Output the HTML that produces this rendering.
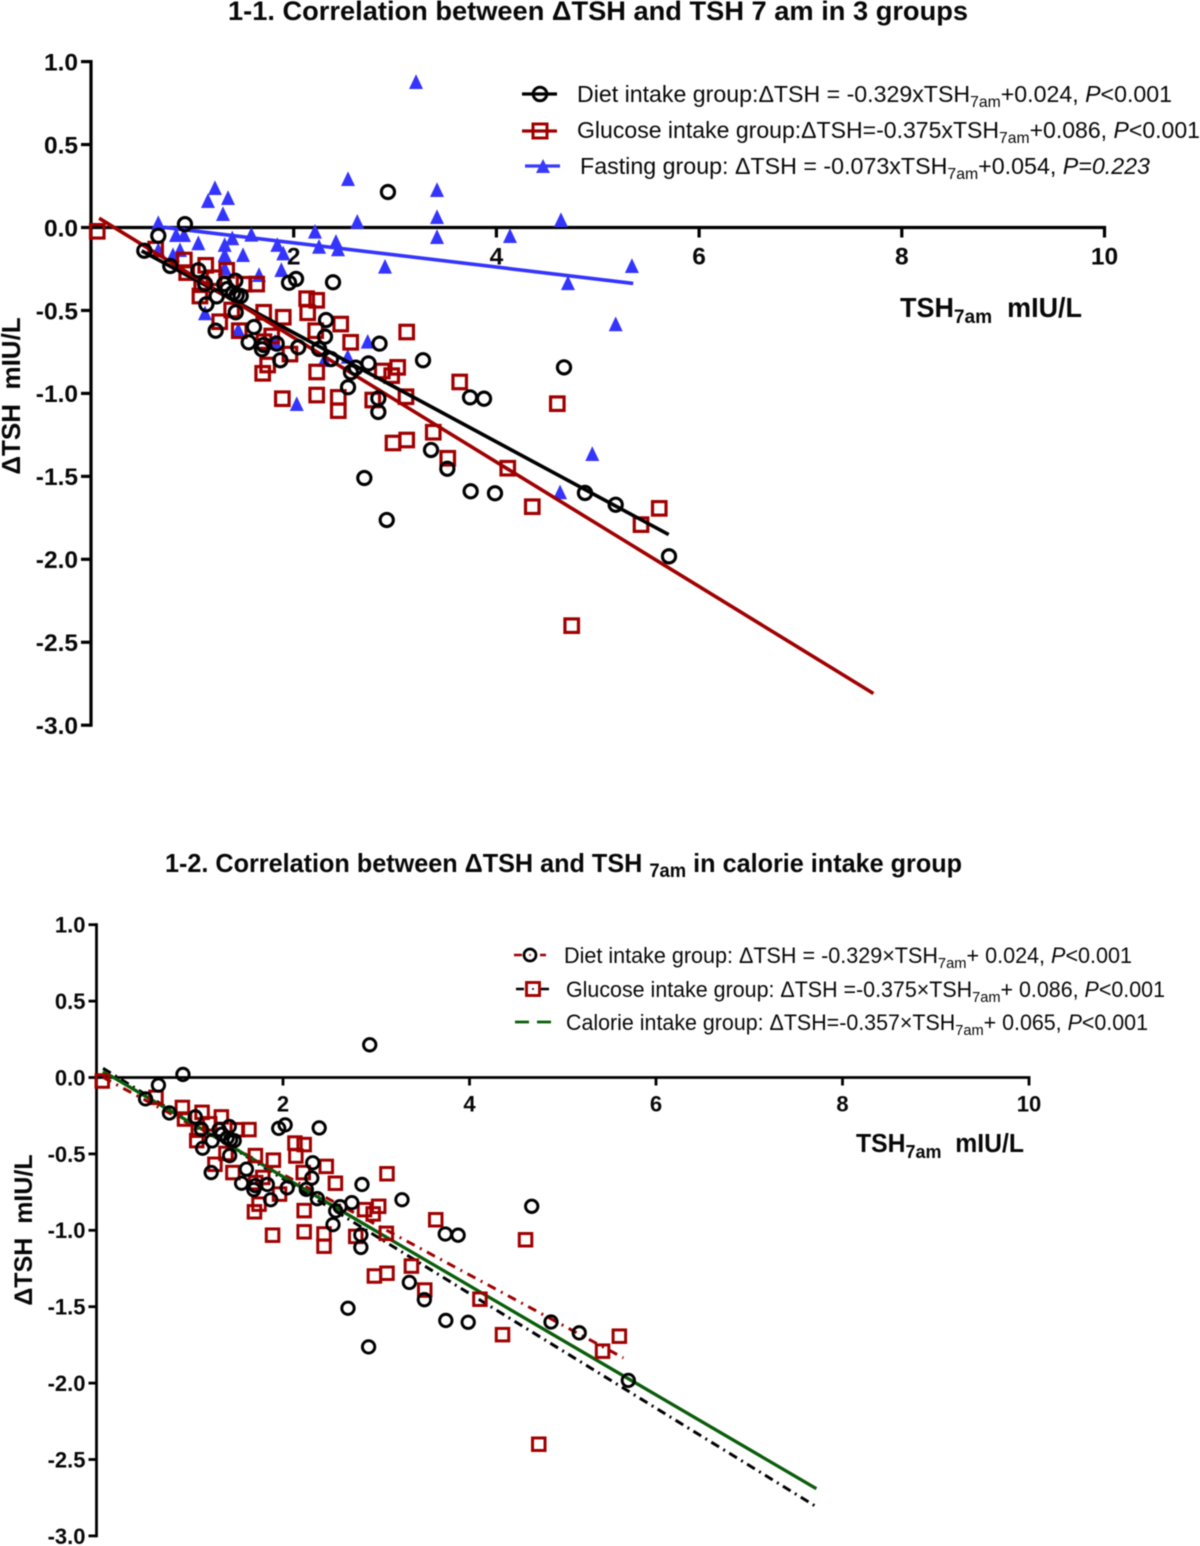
<!DOCTYPE html>
<html lang="en">
<head>
<meta charset="utf-8">
<title>TSH correlation charts</title>
<style>
html,body{margin:0;padding:0;background:#fff;}
#figure{display:block;width:1200px;height:1546px;filter:blur(0.4px);font-family:"Liberation Sans",Arial,sans-serif;}
text{fill:#080808;}
.b{font-weight:bold;}
</style>
</head>
<body>
<svg id="figure" xmlns="http://www.w3.org/2000/svg" width="1200" height="1546" viewBox="0 0 1200 1546">
  <rect x="0" y="0" width="1200" height="1546" fill="#ffffff"/>

  <text class="b" x="228" y="20" font-size="26.5" textLength="740" lengthAdjust="spacingAndGlyphs">1-1. Correlation between ΔTSH and TSH 7 am in 3 groups</text>
  <text class="b" x="165" y="872" font-size="26" textLength="797" lengthAdjust="spacingAndGlyphs">1-2. Correlation between ΔTSH and TSH <tspan dy="5" font-size="19">7am</tspan><tspan dy="-5"> in calorie intake group</tspan></text>

  <g id="chart1"></g>
  <g id="chart2"></g>

  <text class="b" x="900" y="317" font-size="27.5" textLength="182" lengthAdjust="spacingAndGlyphs">TSH<tspan dy="6" font-size="19.5">7am</tspan><tspan dy="-6" xml:space="preserve">  mIU/L</tspan></text>
  <text class="b" x="856" y="1152" font-size="25.5" textLength="168" lengthAdjust="spacingAndGlyphs">TSH<tspan dy="6" font-size="18.5">7am</tspan><tspan dy="-6" xml:space="preserve">  mIU/L</tspan></text>
  <text class="b" transform="translate(20,396) rotate(-90)" text-anchor="middle" font-size="26" xml:space="preserve">ΔTSH  mIU/L</text>
  <text class="b" transform="translate(32,1230) rotate(-90)" text-anchor="middle" font-size="25" xml:space="preserve">ΔTSH  mIU/L</text>

  <g>
    <g>
      <line x1="522" y1="94" x2="557" y2="94" stroke="#000" stroke-width="3.2"/>
      <circle cx="540" cy="94" r="6.8" fill="none" stroke="#000" stroke-width="3"/>
      <text x="577" y="102" font-size="23.5" textLength="595" lengthAdjust="spacingAndGlyphs">Diet intake group:ΔTSH = -0.329xTSH<tspan dy="5" font-size="16">7am</tspan><tspan dy="-5">+0.024, </tspan><tspan font-style="italic">P</tspan>&lt;0.001</text>
    </g>
    <g>
      <line x1="522" y1="131" x2="557" y2="131" stroke="#a00000" stroke-width="3.2"/>
      <rect x="533" y="124" width="14" height="14" fill="none" stroke="#a00000" stroke-width="3"/>
      <text x="577" y="138" font-size="23.5" textLength="623" lengthAdjust="spacingAndGlyphs">Glucose intake group:ΔTSH=-0.375xTSH<tspan dy="5" font-size="16">7am</tspan><tspan dy="-5">+0.086, </tspan><tspan font-style="italic">P</tspan>&lt;0.001</text>
    </g>
    <g>
      <line x1="525" y1="166" x2="560" y2="166" stroke="#3a3aff" stroke-width="3.2"/>
      <polygon points="543,159 550,173 536,173" fill="#3a3aff"/>
      <text x="580" y="174" font-size="23.5" textLength="570" lengthAdjust="spacingAndGlyphs">Fasting group: ΔTSH = -0.073xTSH<tspan dy="5" font-size="16">7am</tspan><tspan dy="-5">+0.054, </tspan><tspan font-style="italic">P=0.223</tspan></text>
    </g>
  </g>

  <g>
    <g>
      <line x1="514" y1="955" x2="546" y2="955" stroke="#a00000" stroke-width="2.6" stroke-dasharray="8 18 8"/>
      <circle cx="530" cy="955" r="6" fill="none" stroke="#000" stroke-width="2.7"/>
      <circle cx="530" cy="955" r="1" fill="#a00000"/>
      <text x="564" y="963" font-size="22" textLength="568" lengthAdjust="spacingAndGlyphs">Diet intake group: ΔTSH = -0.329×TSH<tspan dy="5" font-size="15">7am</tspan><tspan dy="-5">+ 0.024, </tspan><tspan font-style="italic">P</tspan>&lt;0.001</text>
    </g>
    <g>
      <line x1="516" y1="989" x2="549" y2="989" stroke="#000" stroke-width="2.6" stroke-dasharray="8 17 8"/>
      <rect x="526.5" y="982.5" width="13" height="13" fill="none" stroke="#a00000" stroke-width="2.9"/>
      <circle cx="533" cy="989" r="1" fill="#000"/>
      <text x="566" y="997" font-size="22" textLength="599" lengthAdjust="spacingAndGlyphs">Glucose intake group: ΔTSH =-0.375×TSH<tspan dy="5" font-size="15">7am</tspan><tspan dy="-5">+ 0.086, </tspan><tspan font-style="italic">P</tspan>&lt;0.001</text>
    </g>
    <g>
      <line x1="515" y1="1022" x2="551" y2="1022" stroke="#0a5c0a" stroke-width="2.8" stroke-dasharray="14 8 14"/>
      <text x="566" y="1030" font-size="22" textLength="582" lengthAdjust="spacingAndGlyphs">Calorie intake group: ΔTSH=-0.357×TSH<tspan dy="5" font-size="15">7am</tspan><tspan dy="-5">+ 0.065, </tspan><tspan font-style="italic">P</tspan>&lt;0.001</text>
    </g>
  </g>
</svg>

<script>
// ---- data ----
const dietX = [0.927,0.664,0.526,0.782,1.059,1.125,1.315,1.424,1.345,1.401,1.477,1.438,1.24,1.138,1.428,1.23,1.608,1.556,1.704,1.687,1.832,2.045,1.868,1.954,2.023,2.388,2.319,2.309,2.25,2.368,2.612,2.565,2.738,2.536,2.847,3.276,2.835,2.835,4.667,3.74,3.878,3.355,3.516,2.697,3.746,3.986,2.918,4.874,5.177,5.703,2.93];
const dietY = [0.02,-0.05,-0.14,-0.232,-0.258,-0.339,-0.341,-0.321,-0.371,-0.395,-0.413,-0.407,-0.415,-0.463,-0.511,-0.622,-0.6,-0.692,-0.708,-0.734,-0.7,-0.722,-0.8,-0.333,-0.31,-0.33,-0.558,-0.658,-0.732,-0.793,-0.845,-0.873,-0.819,-0.963,-0.7,-0.8,-1.03,-1.112,-0.843,-1.024,-1.032,-1.341,-1.454,-1.51,-1.59,-1.602,-1.763,-1.6,-1.671,-1.982,0.214];
const glucoseX = [0.062,0.638,0.921,0.944,1.132,1.339,1.214,1.092,1.635,1.51,1.075,1.388,1.27,1.704,1.897,1.463,1.783,1.707,1.963,1.743,1.694,2.128,2.227,2.138,2.217,2.464,2.562,2.227,2.874,2.967,3.026,3.115,1.888,2.227,2.44,2.44,2.78,3.108,3.377,3.115,2.98,3.638,4.601,3.52,4.112,4.354,5.607,5.427,4.743];
const glucoseY = [-0.023,-0.13,-0.196,-0.272,-0.228,-0.258,-0.303,-0.345,-0.341,-0.342,-0.413,-0.497,-0.568,-0.511,-0.541,-0.622,-0.654,-0.688,-0.763,-0.829,-0.879,-0.429,-0.439,-0.514,-0.622,-0.582,-0.692,-0.871,-0.865,-0.893,-0.843,-0.63,-1.032,-1.01,-1.024,-1.104,-1.04,-1.02,-1.234,-1.281,-1.299,-0.931,-1.062,-1.391,-1.451,-1.683,-1.693,-1.791,-2.4];
const fastingX = [0.664,1.223,1.352,1.154,1.302,2.536,3.207,3.414,3.414,3.414,2.627,4.637,4.134,2.901,4.706,5.337,5.177,4.946,4.628,2.03,0.839,0.918,1.059,1.319,1.394,1.582,1.838,1.897,2.21,2.25,2.417,2.437,0.664,0.878,0.809,1.319,1.5,1.319,1.878,1.658,1.125,1.453,2.73,2.533,2.302,1.815];
const fastingY = [0.027,0.238,0.178,0.16,0.081,0.292,0.877,0.226,0.063,-0.057,0.035,0.045,-0.051,-0.236,-0.335,-0.232,-0.583,-1.365,-1.596,-1.064,-0.045,-0.045,-0.095,-0.105,-0.065,-0.043,-0.105,-0.156,-0.025,-0.116,-0.086,-0.131,-0.136,-0.136,-0.166,-0.166,-0.166,-0.246,-0.256,-0.286,-0.517,-0.618,-0.688,-0.779,-0.799,-0.688];

const dietLineX = [0.5,5.7];
const dietLineY = [-0.141,-1.851];
const glucoseLineX = [0.08,7.72];
const glucoseLineY = [0.056,-2.809];
const fastingLineX = [0.72,5.35];
const fastingLineY = [0.001,-0.337];
const dietLine2X = [0.07,5.65];
const dietLine2Y = [0.001,-1.835];
const glucoseLine2X = [0.07,7.72];
const glucoseLine2Y = [0.06,-2.809];
const calorieLineX = [0.07,7.72];
const calorieLineY = [0.04,-2.691];

const xTickValues = [2,4,6,8,10];
const xTickLabels = ['2','4','6','8','10'];
const yTickValues = [1,0.5,0,-0.5,-1,-1.5,-2,-2.5,-3];
const yTickLabels = ['1.0','0.5','0.0','-0.5','-1.0','-1.5','-2.0','-2.5','-3.0'];

const NS = 'http://www.w3.org/2000/svg';
const RED = '#a00000', BLUE = '#3434ff', GREEN = '#0a5c0a', BLACK = '#000000';

function make(tag, attrs, parent) {
  const el = document.createElementNS(NS, tag);
  for (const k in attrs) el.setAttribute(k, attrs[k]);
  parent.appendChild(el);
  return el;
}

function scales(cfg) {
  return {
    x: v => cfg.x0 + v * cfg.xUnit,
    y: v => cfg.y0 - v * cfg.yUnit
  };
}

function drawAxes(root, cfg, s) {
  const yAxis = make('line', {x1: s.x(0), x2: s.x(0), y1: s.y(1) - cfg.axisW / 2, y2: s.y(-3) + cfg.axisW / 2, stroke: BLACK, 'stroke-width': cfg.axisW}, root);
  
  
  const xAxis = make('line', {x1: s.x(0), x2: s.x(10) + cfg.axisW / 2, y1: s.y(0), y2: s.y(0), stroke: BLACK, 'stroke-width': cfg.axisW}, root);
  
  
  yTickValues.forEach((v, i) => {
    const t = make('line', {x1: s.x(0) - cfg.tick, x2: s.x(0), y1: s.y(v), y2: s.y(v), stroke: BLACK, 'stroke-width': cfg.axisW}, root);
    
    
    const l = make('text', {x: s.x(0) - cfg.tick - 3, y: s.y(v) + cfg.labelSize * 0.36, 'text-anchor': 'end', 'font-size': cfg.labelSize, 'font-weight': 'bold'}, root);
    l.textContent = yTickLabels[i];
    
    
  });
  xTickValues.forEach((v, i) => {
    const t = make('line', {x1: s.x(v), x2: s.x(v), y1: s.y(0), y2: s.y(0) + cfg.tick, stroke: BLACK, 'stroke-width': cfg.axisW}, root);
    
    
    const l = make('text', {x: s.x(v), y: s.y(0) + cfg.labelDrop, 'text-anchor': 'middle', 'font-size': cfg.labelSize, 'font-weight': 'bold'}, root);
    l.textContent = xTickLabels[i];
    
    
  });
}

function drawLine(root, s, xs, ys, color, width, dash, name) {
  const ln = make('line', {x1: s.x(xs[0]), y1: s.y(ys[0]), x2: s.x(xs[1]), y2: s.y(ys[1]), stroke: color, 'stroke-width': width}, root);
  if (dash) ln.setAttribute('stroke-dasharray', dash);
  
  
}

function drawCircles(root, s, xs, ys, r, w) {
  xs.forEach((v, i) => {
    const c = make('circle', {cx: s.x(v), cy: s.y(ys[i]), r: r, fill: 'none', stroke: BLACK, 'stroke-width': w}, root);
    
    
  });
}

function drawSquares(root, s, xs, ys, side, w) {
  xs.forEach((v, i) => {
    const c = make('rect', {x: s.x(v) - side / 2, y: s.y(ys[i]) - side / 2, width: side, height: side, fill: 'none', stroke: RED, 'stroke-width': w}, root);
    
    
  });
}

function drawTriangles(root, s, xs, ys, size) {
  xs.forEach((v, i) => {
    const px = s.x(v), py = s.y(ys[i]);
    const pts = px + ',' + (py - size * 0.55) + ' ' + (px + size / 2) + ',' + (py + size * 0.5) + ' ' + (px - size / 2) + ',' + (py + size * 0.5);
    const c = make('polygon', {points: pts, fill: BLUE}, root);
    
    
  });
}

const cfg1 = {x0: 91, xUnit: 101.35, y0: 227.5, yUnit: 165.9, axisW: 3.2, tick: 10, labelSize: 24.5, labelDrop: 37};
const s1 = scales(cfg1);
const g1 = document.getElementById('chart1');
drawAxes(g1, cfg1, s1);
drawTriangles(g1, s1, fastingX, fastingY, 14);
drawLine(g1, s1, fastingLineX, fastingLineY, BLUE, 3.6, null, 'fasting-fit-line');
drawSquares(g1, s1, glucoseX, glucoseY, 13.5, 3.2);
drawLine(g1, s1, dietLineX, dietLineY, BLACK, 3.6, null, 'diet-fit-line');
drawLine(g1, s1, glucoseLineX, glucoseLineY, RED, 3.6, null, 'glucose-fit-line');
drawCircles(g1, s1, dietX, dietY, 6.6, 3.1);

const cfg2 = {x0: 96.5, xUnit: 93.25, y0: 1077.5, yUnit: 152.8, axisW: 2.8, tick: 8, labelSize: 22, labelDrop: 34};
const s2 = scales(cfg2);
const g2 = document.getElementById('chart2');
drawAxes(g2, cfg2, s2);
drawLine(g2, s2, dietLine2X, dietLine2Y, RED, 3, '9 6 2 6', 'diet-fit-line-2');
drawLine(g2, s2, glucoseLine2X, glucoseLine2Y, BLACK, 3, '9 5 2 5', 'glucose-fit-line-2');
drawLine(g2, s2, calorieLineX, calorieLineY, GREEN, 3.3, null, 'calorie-fit-line');
drawSquares(g2, s2, glucoseX, glucoseY, 12.5, 3);
drawCircles(g2, s2, dietX, dietY, 6.2, 2.9);
</script>
</body>
</html>
